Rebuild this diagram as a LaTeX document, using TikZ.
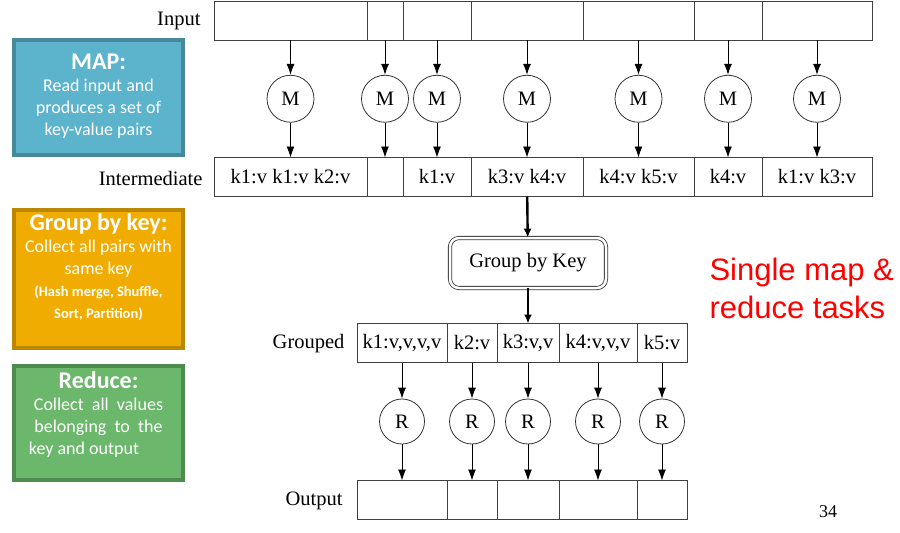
\documentclass[tikz,border=0pt]{standalone}
\usepackage{fontspec}
\usetikzlibrary{arrows.meta}
\setmainfont{Liberation Serif}
\newfontfamily\boxfont{Carlito}
\newfontfamily\redfont{Liberation Sans}
\definecolor{mapblue}{HTML}{5BB3CC}
\definecolor{mapedge}{HTML}{47899B}
\definecolor{grporange}{HTML}{F0AC00}
\definecolor{grpedge}{HTML}{BC8700}
\definecolor{redgreen}{HTML}{6BB76B}
\definecolor{rededge}{HTML}{4E8C4E}
\definecolor{slidered}{HTML}{FF0000}
\tikzset{
  cell/.style = {draw=black!75, line width=1pt, inner sep=0pt, outer sep=0pt, minimum height=39pt, font=\fontsize{20.5}{24}\selectfont},
  worker/.style = {circle, draw=black!80, line width=.8pt, minimum size=47pt, inner sep=0pt, font=\fontsize{20.5}{24}\selectfont},
  rowlabel/.style = {anchor=east, font=\fontsize{20.5}{24}\selectfont},
  arr/.style = {-{Latex[length=11pt,width=8pt]}, line width=.9pt},
  thickarr/.style = {-{Latex[length=9pt,width=8pt]}, line width=2.4pt},
  infobox/.style = {line width=4pt, text=white, align=center, minimum width=169pt, inner sep=0pt, font=\boxfont\fontsize{18}{22}\selectfont}
}
\begin{document}
\begin{tikzpicture}[x=1pt, y=-1pt]
\useasboundingbox (0,0) rectangle (900,533);

% left side explanation boxes
\node[infobox, fill=mapblue, draw=mapedge, minimum height=115pt, anchor=north west, text depth=6pt] (mapbox) at (12,38)
  {{\fontsize{24}{26}\selectfont\bfseries MAP:}\\Read input and\\produces a set of\\key-value pairs};
\node[infobox, fill=grporange, draw=grpedge, minimum height=138pt, anchor=north west, text depth=26pt] (grpbox) at (12,208)
  {{\fontsize{24}{26}\selectfont\bfseries Group by key:}\\Collect all pairs with\\same key\\{\fontsize{14.5}{19}\selectfont\bfseries (Hash merge, Shuffle,}\\{\fontsize{14.5}{19}\selectfont\bfseries Sort, Partition)}};
\node[infobox, fill=redgreen, draw=rededge, minimum height=114pt, anchor=north west, text depth=20pt] (redbox) at (12,364)
  {{\fontsize{24}{26}\selectfont\bfseries Reduce:}\\Collect~ all~ values\\belonging~ to~ the\\key and output\phantom{iiiiiii}};

% rows
\node[rowlabel] (inlabel) at (204,21) {Input};
\node[rowlabel] (imlabel) at (206,178) {Intermediate};
\node[rowlabel] (grlabel) at (348,344) {Grouped};
\node[rowlabel] (outlabel) at (346,501) {Output};

\foreach \l/\r/\i in {214/367/1, 367/403/2, 403/471/3, 471/583/4, 583/694/5, 694/762/6, 762/872/7}
  \node[cell, minimum width={(\r-\l)*1pt}] (in\i) at ({(\l+\r)/2},20.5) {};
\foreach \l/\r/\i/\t in {214/367/1/{k1:v k1:v k2:v}, 367/403/2/{}, 403/471/3/{k1:v}, 471/583/4/{k3:v k4:v},
    583/694/5/{k4:v k5:v}, 694/762/6/{k4:v}, 762/872/7/{k1:v k3:v}}
  \node[cell, minimum width={(\r-\l)*1pt}] (im\i) at ({(\l+\r)/2},177) {\t};
\foreach \i in {1,...,7} {
  \path (in\i) -- (im\i) node[midway, worker] (m\i) {M};
  \draw[arr] (in\i) -- (m\i);
  \draw[arr] (m\i) -- (im\i);
}

\node[draw=black!80, double, double distance=2.5pt, line width=.8pt, rounded corners=9pt, minimum width=156pt, minimum height=50pt,
  font=\fontsize{20.5}{24}\selectfont] (gbk) at (528,263) {Group by Key};
\draw[thickarr] (im4) -- (gbk);

\foreach \l/\r/\i/\t in {357/447/1/{k1:v,v,v,v}, 447/497/2/{k2:v}, 497/559/3/{k3:v,v}, 559/637/4/{k4:v,v,v}, 637/687/5/{k5:v}} {
  \node[cell, minimum width={(\r-\l)*1pt}] (gr\i) at ({(\l+\r)/2},343) {\t};
  \node[cell, minimum width={(\r-\l)*1pt}] (out\i) at ({(\l+\r)/2},500) {};
  \path (gr\i) -- (out\i) node[midway, worker, minimum size=45pt] (r\i) {R};
  \draw[arr] (gr\i) -- (r\i);
  \draw[arr] (r\i) -- (out\i);
}
\draw[thickarr] (gbk) -- (gr3.north -| gbk);

\node[anchor=west, align=left, text=slidered, font=\redfont\fontsize{31}{38}\selectfont] (note) at (706,288) {Single map \&\\reduce tasks};
\node[font=\fontsize{18}{20}\selectfont] (pagenum) at (828,512) {34};
\end{tikzpicture}
\end{document}
